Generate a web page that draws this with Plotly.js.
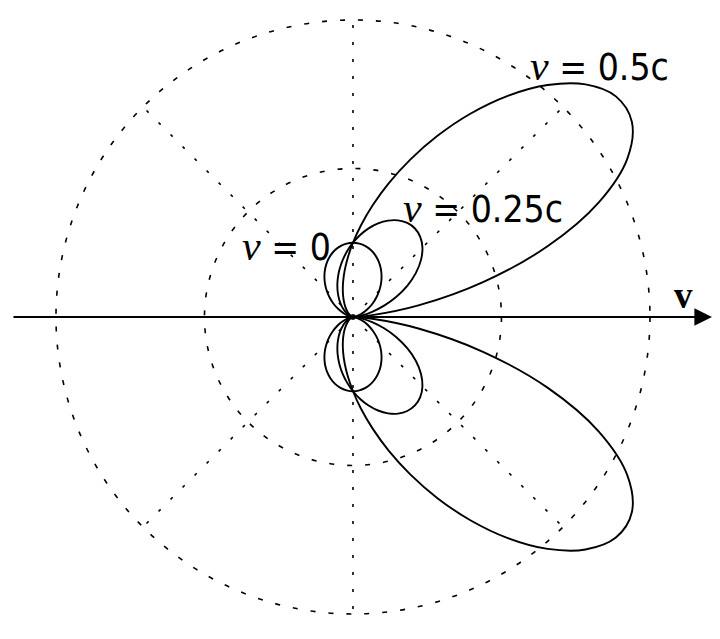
<!DOCTYPE html>
<html>
<head>
<meta charset="utf-8">
<script src="https://cdn.plot.ly/plotly-3.0.1.min.js"></script>
<style>
  html, body { margin: 0; padding: 0; background: #fff; }
  #chart { width: 720px; height: 639px; }
</style>
</head>
<body>
<div id="chart"></div>
<script>
// angle from the direction of v, degrees (upper half; lower half is the mirror)
const thetaDeg = [0, 5, 10, 15, 20, 25, 30, 35, 40, 45, 50, 55, 60, 65, 70, 75, 80, 85, 90,
    95, 100, 105, 110, 115, 120, 125, 130, 135, 140, 145, 150, 155, 160, 165, 170, 175, 180]

// radiated intensity (v = 0 peak = 1)
const rV0 = [0, 0.008, 0.030, 0.067, 0.117, 0.179, 0.250, 0.329, 0.413, 0.500, 0.587, 0.671, 0.750,
    0.821, 0.883, 0.933, 0.970, 0.992, 1.000, 0.992, 0.970, 0.933, 0.883, 0.821, 0.750, 0.671,
    0.587, 0.500, 0.413, 0.329, 0.250, 0.179, 0.117, 0.067, 0.030, 0.008, 0]
const rV025 = [0, 0.032, 0.124, 0.267, 0.446, 0.645, 0.847, 1.035, 1.196, 1.323, 1.409, 1.455, 1.462,
    1.436, 1.381, 1.304, 1.211, 1.108, 1.000, 0.891, 0.784, 0.682, 0.586, 0.497, 0.416, 0.343,
    0.279, 0.222, 0.172, 0.130, 0.094, 0.064, 0.041, 0.023, 0.010, 0.003, 0]
const rV05 = [0, 0.239, 0.895, 1.813, 2.793, 3.653, 4.267, 4.585, 4.622, 4.429, 4.078, 3.636, 3.161,
    2.692, 2.255, 1.866, 1.527, 1.240, 1.000, 0.802, 0.640, 0.508, 0.401, 0.315, 0.246, 0.190,
    0.146, 0.110, 0.082, 0.059, 0.041, 0.028, 0.017, 0.009, 0.004, 0.001, 0]

const curveNames = ["v = 0", "v = 0.25c", "v = 0.5c"]
const curves = [rV0, rV025, rV05]

// grid
const gridRadii = [2, 4]
const spokeAngles = [0, 45, 90, 135, 180, 225, 270, 315]

const rad = d => d * Math.PI / 180

function lobe(r, sign, name) {
    return {
        x: r.map((v, i) => v * Math.cos(rad(thetaDeg[i]))),
        y: r.map((v, i) => sign * v * Math.sin(rad(thetaDeg[i]))),
        type: "scatter",
        mode: "lines",
        line: { color: "#000", width: 1.9, shape: "spline", smoothing: 1 },
        name: name,
        hoverinfo: "skip",
    }
}

const traces = []
curves.forEach((r, k) => {
    traces.push(lobe(r, 1, curveNames[k]))
    traces.push(lobe(r, -1, curveNames[k]))
})

const shapes = []
gridRadii.forEach(R => {
    shapes.push({
        type: "circle", xref: "x", yref: "y", layer: "below",
        x0: -R, x1: R, y0: -R, y1: R,
        line: { color: "#000", width: 1.6, dash: "5px,13px" },
    })
})
const outer = gridRadii[gridRadii.length - 1]
spokeAngles.forEach(a => {
    shapes.push({
        type: "line", xref: "x", yref: "y", layer: "below",
        x0: 0, y0: 0,
        x1: outer * Math.cos(rad(a)), y1: outer * Math.sin(rad(a)),
        line: { color: "#000", width: 1.6, dash: "3px,14px" },
    })
})

const serifV = "<span style=\"font-family:'Liberation Serif';font-style:italic;font-size:42px\">v</span>"
const labelFont = { family: "DejaVu Sans Condensed, Liberation Sans, sans-serif", size: 37, color: "#000" }

const annotations = [
    // v axis arrow
    {
        x: 4.835, y: 0, ax: -4.593, ay: 0, xref: "x", yref: "y", axref: "x", ayref: "y",
        text: "", showarrow: true, arrowhead: 2, arrowsize: 1.6, arrowwidth: 2.2, arrowcolor: "#000",
    },
    {
        x: 4.458, y: 0.29, xref: "x", yref: "y", showarrow: false,
        text: "<b>v</b>", font: { family: "Liberation Serif, serif", size: 37, color: "#000" },
    },
    { x: 2.36, y: 3.38, xref: "x", yref: "y", xanchor: "left", showarrow: false,
        text: serifV + " = 0.5c", font: labelFont },
    { x: 0.64, y: 1.47, xref: "x", yref: "y", xanchor: "left", showarrow: false,
        text: serifV + " = 0.25c", font: labelFont },
    { x: -1.52, y: 0.95, xref: "x", yref: "y", xanchor: "left", showarrow: false,
        text: serifV + " = 0", font: labelFont },
]

const layout = {
    width: 720,
    height: 639,
    margin: { l: 0, r: 0, t: 0, b: 0 },
    paper_bgcolor: "#fff",
    plot_bgcolor: "#fff",
    showlegend: false,
    xaxis: { range: [-4.754, 4.943], visible: false, fixedrange: true },
    yaxis: { range: [-4.337, 4.269], visible: false, fixedrange: true },
    shapes: shapes,
    annotations: annotations,
}

Plotly.newPlot("chart", traces, layout, { displayModeBar: false, staticPlot: true })
</script>
</body>
</html>
